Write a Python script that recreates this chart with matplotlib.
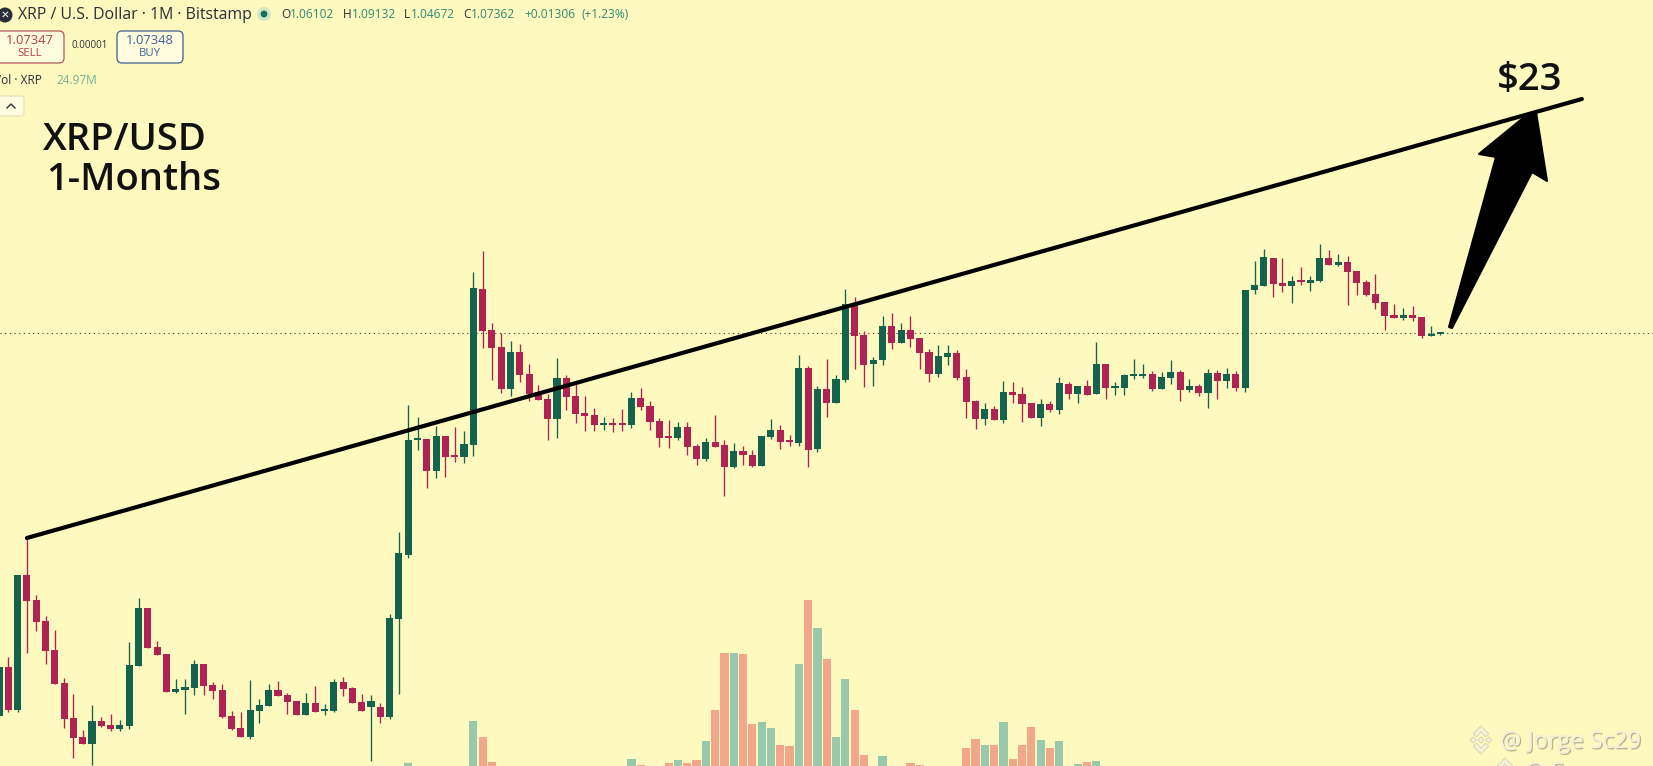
import matplotlib
matplotlib.use("Agg")
import matplotlib.pyplot as plt
import matplotlib.patheffects as pe
from matplotlib.patches import Circle, Polygon, FancyBboxPatch

W, H = 1653, 766

# candle levels (height above the bottom edge, price scale is hidden)
opens = [50, 99, 56, 191, 166, 145, 116, 83, 48, 29, 22, 45, 41, 37, 40, 100, 158, 119, 112, 74,
         76, 78, 102, 81, 76, 50, 38, 29, 55, 60, 76, 71, 65, 51, 63, 55, 55, 84, 78, 64,
         59, 59, 49, 147, 211, 326, 327, 295, 330, 310, 309, 321, 477, 436, 419, 377, 414, 392, 374, 367,
         347, 388, 370, 353, 351, 341, 343, 342, 341, 368, 360, 345, 329, 328, 339, 320, 307, 324, 321, 299,
         315, 311, 300, 329, 336, 325, 323, 398, 317, 377, 363, 386, 462, 431, 402, 406, 440, 423, 436, 428,
         414, 392, 409, 413, 389, 365, 347, 357, 346, 374, 372, 363, 348, 362, 356, 382, 372, 380, 372, 402,
         378, 378, 390, 390, 392, 377, 388, 394, 376, 380, 373, 393, 385, 392, 378, 476, 480, 508, 483, 480,
         485, 483, 485, 508, 501, 504, 495, 484, 472, 464, 451, 448, 451, 449, 430, 432]
highs = [99, 109, 191, 228, 171, 150, 136, 88, 72, 36, 61, 49, 52, 46, 124, 168, 158, 125, 112, 87,
         87, 106, 102, 84, 82, 55, 54, 86, 67, 82, 85, 73, 65, 73, 80, 62, 87, 89, 79, 72,
         71, 63, 152, 234, 361, 349, 327, 340, 330, 339, 335, 494, 515, 443, 433, 425, 422, 402, 381, 372,
         408, 391, 385, 370, 358, 349, 348, 357, 374, 378, 365, 348, 346, 344, 344, 322, 328, 351, 326, 323,
         320, 316, 330, 347, 341, 331, 411, 400, 380, 407, 391, 477, 469, 435, 409, 450, 453, 443, 450, 428,
         417, 421, 421, 416, 397, 366, 363, 360, 385, 384, 379, 363, 367, 365, 389, 384, 380, 386, 424, 402,
         384, 392, 407, 402, 395, 394, 406, 396, 387, 382, 397, 396, 398, 395, 476, 505, 517, 508, 508, 490,
         499, 490, 522, 516, 512, 510, 495, 486, 492, 464, 462, 458, 460, 449, 440, 434]
lows = [50, 54, 54, 113, 135, 102, 82, 38, 8, 22, 1, 39, 35, 35, 37, 100, 118, 111, 74, 73,
        52, 71, 71, 67, 48, 36, 29, 27, 43, 60, 70, 52, 51, 51, 54, 51, 54, 70, 63, 55,
        5, 43, 47, 72, 208, 316, 278, 288, 289, 304, 303, 310, 418, 386, 373, 370, 384, 365, 366, 326,
        328, 356, 343, 335, 335, 336, 334, 335, 338, 356, 336, 319, 318, 326, 311, 301, 305, 319, 270, 298,
        301, 299, 300, 327, 317, 320, 320, 299, 314, 349, 363, 384, 397, 379, 380, 401, 417, 423, 419, 397,
        384, 389, 401, 386, 348, 337, 341, 346, 343, 363, 344, 348, 340, 354, 352, 367, 363, 371, 372, 367,
        371, 371, 387, 388, 375, 377, 382, 365, 374, 370, 358, 367, 378, 375, 374, 472, 480, 469, 474, 463,
        481, 475, 484, 501, 500, 461, 471, 470, 457, 436, 448, 446, 445, 428, 430, 431]
closes = [99, 56, 191, 165, 144, 115, 82, 47, 28, 22, 45, 40, 37, 41, 101, 158, 118, 111, 74, 77,
          79, 102, 80, 75, 49, 37, 29, 56, 61, 76, 70, 64, 51, 63, 54, 56, 84, 77, 63, 55,
          65, 49, 148, 213, 326, 327, 295, 330, 309, 309, 322, 478, 435, 418, 377, 414, 391, 372, 366, 347,
          388, 369, 352, 350, 341, 343, 341, 341, 368, 359, 344, 328, 328, 339, 319, 307, 324, 319, 299, 315,
          311, 300, 330, 336, 324, 324, 398, 316, 377, 363, 387, 462, 430, 401, 406, 440, 423, 436, 427, 413,
          392, 410, 413, 388, 364, 347, 357, 346, 374, 371, 362, 348, 362, 356, 383, 372, 380, 371, 402, 378,
          379, 391, 391, 392, 377, 389, 394, 376, 380, 373, 393, 385, 392, 378, 476, 481, 509, 482, 480, 485,
          484, 486, 508, 501, 504, 494, 483, 471, 463, 450, 448, 451, 448, 430, 432, 433]

# volume bars only exist for some candles in the visible part
vol_index = [44, 51, 52, 53, 68, 69, 72, 73, 74, 75, 76, 77, 78, 79, 80, 81, 82, 83, 84, 85, 86, 87, 88, 89, 90,
             91, 92, 93, 95, 98, 99, 104, 105, 106, 107, 108, 109, 110, 111, 112, 113, 114, 116, 117, 118]
vol_values = [3, 45, 29, 4, 7, 1, 3, 6, 3, 6, 25, 56, 113, 113, 112, 42, 44, 38, 21, 20, 102, 166, 138, 107, 29,
              87, 56, 11, 10, 3, 1, 18, 27, 21, 21, 44, 7, 21, 39, 26, 18, 25, 2, 4, 5]

trend_x = [3, 170.2]
trend_y = [228, 667]
last_level = 432.7

BG = "#FEF9BF"
GREEN = "#14634F"
RED = "#AE2254"
VOL_GREEN = "#98C9AC"
VOL_RED = "#F2A68A"
TEAL = "#2F8A78"

plt.rcParams["font.family"] = ["Open Sans", "DejaVu Sans"]

fig = plt.figure(figsize=(W / 100, H / 100), dpi=100, facecolor=BG)
ax = fig.add_axes([0, 0, 1, 1], facecolor=BG)
ax.set_xlim(0.104, 177.85)
ax.set_ylim(0, H)
ax.axis("off")

ax.axhline(last_level, color="#3A3A30", lw=0.8, ls=(0, (1, 3.2)), zorder=1)

for i in range(len(opens)):
    col = GREEN if closes[i] >= opens[i] else RED
    top = max(opens[i], closes[i])
    bot = min(opens[i], closes[i])
    ax.vlines(i, lows[i], highs[i], color=col, lw=0.95, zorder=2)
    ax.bar(i, max(top - bot, 1.6), bottom=bot, width=0.76, color=col, lw=0, zorder=3)

vol_colors = [VOL_GREEN if closes[i] >= opens[i] else VOL_RED for i in vol_index]
ax.bar(vol_index, vol_values, width=0.88, color=vol_colors, lw=0, zorder=2)

ax.plot(trend_x, trend_y, color="black", lw=3.0, solid_capstyle="round", zorder=4)

# overlay in picture pixels for the screenshot furniture and the hand drawn notes
ov = fig.add_axes([0, 0, 1, 1], facecolor="none")
ov.set_xlim(0, W)
ov.set_ylim(H, 0)
ov.axis("off")

arrow = [(1449, 327), (1496, 157), (1479, 154), (1528, 114), (1536, 112),
         (1547, 181), (1532, 172), (1452, 328)]
ov.add_patch(Polygon(arrow, closed=True, fc="black", ec="black", lw=1.5, joinstyle="round", zorder=5))

ov.text(43, 150, "XRP/USD", fontsize=27.5, color="#111111", weight="semibold", va="baseline", ha="left")
ov.text(46, 190, "1-Months", fontsize=27.5, color="#111111", weight="semibold", va="baseline", ha="left")
ov.text(1497, 90, "$23", fontsize=27.5, color="#111111", weight="semibold", va="baseline", ha="left")

# header
ov.add_patch(Circle((5, 15), 7.5, fc="#2A2E39", ec="none"))
ov.text(5, 15, "✕", color="white", fontsize=7.5, family="DejaVu Sans", ha="center", va="center")
ov.text(18, 15, "XRP / U.S. Dollar · 1M · Bitstamp", fontsize=11.4, color="#2A2E39", va="center")
ov.add_patch(Circle((264, 14), 7, fc="#D3E6C4", ec="none"))
ov.add_patch(Circle((264, 14), 3.4, fc="#16705C", ec="none"))

for x, s, c in [(281, "O", "#2A2E39"), (290, "1.06102", TEAL), (343, "H", "#2A2E39"), (352, "1.09132", TEAL),
                (404, "L", "#2A2E39"), (411, "1.04672", TEAL), (463, "C", "#2A2E39"), (471, "1.07362", TEAL),
                (524, "+0.01306", TEAL), (581, "(+1.23%)", TEAL)]:
    ov.text(x, 15, s, fontsize=8.6, color=c, va="center")

ov.add_patch(FancyBboxPatch((-6, 31), 70, 32, boxstyle="round,pad=0,rounding_size=5",
                            fc="#FFFCE0", ec="#B5585F", lw=0.9))
ov.add_patch(FancyBboxPatch((117, 31), 66, 32, boxstyle="round,pad=0,rounding_size=5",
                            fc="#FFFCE0", ec="#3F5F8C", lw=0.9))
ov.text(30, 40, "1.07347", fontsize=9.4, color="#B0404C", ha="center", va="center", weight="medium")
ov.text(30, 54, "SELL", fontsize=8.2, color="#B0404C", ha="center", va="center")
ov.text(90, 46, "0.00001", fontsize=7, color="#2A2E39", ha="center", va="center")
ov.text(150, 40, "1.07348", fontsize=9.4, color="#3F6194", ha="center", va="center", weight="medium")
ov.text(150, 54, "BUY", fontsize=8.2, color="#3F6194", ha="center", va="center")

ov.text(-6, 81, "Vol · XRP", fontsize=8.6, color="#2A2E39", va="center")
ov.text(56, 81, "24.97M", fontsize=8.6, color="#6FB09A", va="center")

ov.add_patch(FancyBboxPatch((-6, 96), 30, 20, boxstyle="round,pad=0,rounding_size=3",
                            fc="#FFFCE0", ec="#E4DFB8", lw=0.8))
ov.plot([7, 11, 15], [108, 104, 108], color="#2A2E39", lw=1.0)

# watermark
shadow = [pe.withSimplePatchShadow(offset=(1, -1), shadow_rgbFace="#A8A488", alpha=0.8), pe.Normal()]


def binance_logo(cx, cy, s):
    shapes = [
        [(0, -0.22), (0.22, 0), (0, 0.22), (-0.22, 0)],
        [(-0.78, 0), (-0.56, -0.22), (-0.34, 0), (-0.56, 0.22)],
        [(0.78, 0), (0.56, -0.22), (0.34, 0), (0.56, 0.22)],
        [(0, -1), (0.55, -0.45), (0.33, -0.23), (0, -0.56), (-0.33, -0.23), (-0.55, -0.45)],
        [(0, 1), (0.55, 0.45), (0.33, 0.23), (0, 0.56), (-0.33, 0.23), (-0.55, 0.45)],
    ]
    for pts in shapes:
        ov.add_patch(Polygon([(cx + s * a, cy + s * b) for a, b in pts], closed=True, fc="#F5F1DA", ec="#CFCBAE",
                             lw=0.5, zorder=6))


binance_logo(1481, 740, 14)
binance_logo(1505, 772, 14)
ov.text(1500, 742, "@ Jorge Sc29", fontsize=17, color="#F3EFD8", va="center", path_effects=shadow, zorder=6)
ov.text(1524, 773, "@ Square", fontsize=17, color="#F3EFD8", va="center", path_effects=shadow, zorder=6)

fig.savefig("out.png", dpi=100, facecolor=BG)
